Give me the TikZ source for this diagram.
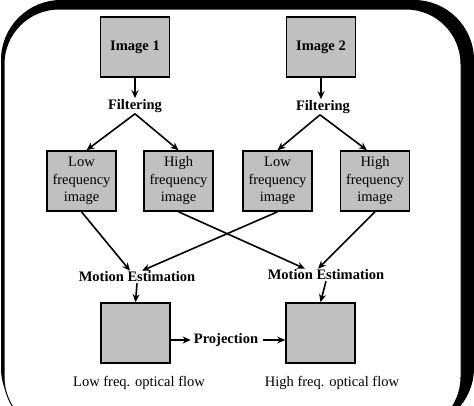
\documentclass[tikz,border=0pt]{standalone}
\usepackage{fontspec}
\setmainfont{Liberation Serif}
\usetikzlibrary{arrows.meta,calc}
\definecolor{boxgray}{RGB}{192,192,192}

\begin{document}
\begin{tikzpicture}[x=1pt, y=-1pt,
    box/.style = {draw, line width=1.6pt, fill=boxgray, minimum width=69pt,
                  minimum height=60pt, inner sep=1pt, align=center,
                  font=\fontsize{14.5}{17.5}\selectfont},
    lbl/.style = {inner sep=1pt, font=\fontsize{14.5}{17.5}\selectfont\bfseries},
    flowlbl/.style = {inner sep=1pt, font=\fontsize{14.5}{17.5}\selectfont},
    arr/.style = {-{Stealth[length=8pt, width=7pt]}, line width=1.6pt}]
    \useasboundingbox (0,0) rectangle (474,405);

    % frame with shadow
    \fill[black] (1,0) [rounded corners=60pt] rectangle (474,428);
    \filldraw[fill=white, draw=black, line width=1pt, rounded corners=55pt]
      (4,9) rectangle (461,432);

    \node[box, font=\fontsize{14.5}{17.5}\selectfont\bfseries] (img1) at (135,47) {Image 1};
    \node[box, font=\fontsize{14.5}{17.5}\selectfont\bfseries] (img2) at (321,47) {Image 2};
    \node[lbl] (filt1) at (135,106) {Filtering};
    \node[lbl] (filt2) at (323,107) {Filtering};

    \node[box] (low1)  at (81.5,181)  {Low\\frequency\\image};
    \node[box] (high1) at (178.5,181) {High\\frequency\\image};
    \node[box] (low2)  at (277.5,181) {Low\\frequency\\image};
    \node[box] (high2) at (375,181)   {High\\frequency\\image};

    \node[lbl] (me1) at (137,277) {Motion Estimation};
    \node[lbl] (me2) at (326,275) {Motion Estimation};

    \node[box] (flow1) at (135.5,333) {};
    \node[box] (flow2) at (320.5,333) {};
    \node[lbl] (proj) at (226,340) {Projection};
    \node[flowlbl] (flowlbl1) at (139,383) {Low freq. optical flow};
    \node[flowlbl] (flowlbl2) at (332,383) {High freq. optical flow};

    \draw[arr] (img1) -- (filt1);
    \draw[arr] (img2.south) -- (img2.south |- filt2.north);
    \draw[arr] (filt1.south) -- ($(low1.north)+(5,0)$);
    \draw[arr] (filt1.south) -- (high1.north);
    \draw[arr] ($(filt2.south)+(-3,0)$) -- (low2.north);
    \draw[arr] ($(filt2.south)+(-3,0)$) -- ($(high2.north)+(-8,0)$);

    \draw[arr] (low1.south) -- ($(me1.north)+(-7,0)$);
    \draw[arr] (low2.south) -- ($(me1.north)+(5,0)$);
    \draw[arr] (high1.south) -- ($(me2.north)+(-21,0)$);
    \draw[arr] (high2.south) -- ($(me2.north)+(-8,0)$);

    \draw[arr] (me1.south) -- (flow1.north);
    \draw[arr] (me2.south) -- (flow2.north);
    \draw[arr] (flow1.east |- proj.west) -- ($(proj.west)+(-2,0)$);
    \draw[arr] ($(proj.east)+(4,0)$) -- (flow2.west |- proj.east);
\end{tikzpicture}
\end{document}
